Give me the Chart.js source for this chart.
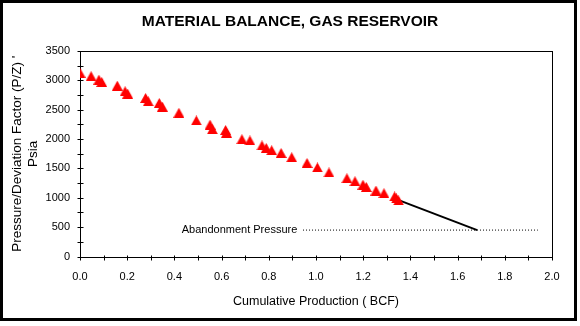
<!DOCTYPE html>
<html>
<head>
<meta charset="utf-8">
<script src="https://cdn.jsdelivr.net/npm/chart.js@4/dist/chart.umd.min.js"></script>
<style>
html,body{margin:0;padding:0;background:#fff;}
canvas{display:block;}
</style>
</head>
<body>
<canvas id="c" width="580" height="326"></canvas>
<script>
// ---- data ----
const prodBCF = [0.000, 0.047, 0.080, 0.092, 0.158, 0.191, 0.202, 0.278, 0.289, 0.336,
                 0.349, 0.419, 0.493, 0.551, 0.561, 0.617, 0.621, 0.686, 0.720, 0.771,
                 0.789, 0.812, 0.852, 0.897, 0.962, 1.006, 1.055, 1.131, 1.165, 1.199,
                 1.213, 1.254, 1.288, 1.333, 1.341, 1.350];
const pzPsia  = [3130, 3070, 3012, 2973, 2910, 2814, 2773, 2700, 2644, 2615,
                 2552, 2448, 2317, 2245, 2167, 2155, 2109, 1998, 1976, 1891,
                 1848, 1809, 1763, 1690, 1593, 1516, 1431, 1332, 1281, 1223,
                 1184, 1124, 1078, 1022, 988, 954];
const extrapX = [1.35, 1.683];
const extrapY = [960, 450];
const abandonX = [0.945, 1.94];
const abandonP = 450;
const abandonLabel = "Abandonment Pressure";
const abandonLabelX = 0.431;
const titleText = "MATERIAL BALANCE, GAS RESERVOIR";
const xTitle = "Cumulative Production ( BCF)";
const yTitle = ["Pressure/Deviation Factor (P/Z) '", "Psia"];
const xRange = [0, 2];
const yRange = [0, 3500];

const FONT = "'Liberation Sans', Arial, sans-serif";

// triangle marker (centred in its box, like the original)
const tri = document.createElement('canvas');
tri.width = 11; tri.height = 10;
(function(){
  const g = tri.getContext('2d');
  g.fillStyle = '#ff0000';
  g.beginPath(); g.moveTo(5.5, 0); g.lineTo(11, 10); g.lineTo(0, 10); g.closePath(); g.fill();
})();

const framePlugin = {
  id: 'frame',
  beforeDraw(chart) {
    const ctx = chart.ctx;
    ctx.save(); ctx.fillStyle = '#fff'; ctx.fillRect(0, 0, chart.width, chart.height); ctx.restore();
  },
  beforeDatasetsDraw(chart) {
    const {ctx, chartArea: a, scales: {x, y}} = chart;
    ctx.save();
    ctx.strokeStyle = '#000'; ctx.lineWidth = 1;
    const L = Math.round(a.left) + 0.5, R = Math.round(a.right) + 0.5;
    const T = Math.round(a.top) + 0.5, B = Math.round(a.bottom) + 0.5;
    ctx.strokeRect(L, T, R - L, B - T);
    ctx.beginPath();
    x.ticks.forEach(t => { const px = Math.round(x.getPixelForValue(t.value)) + 0.5; ctx.moveTo(px, B - 2); ctx.lineTo(px, B + 3); });
    y.ticks.forEach(t => { const py = Math.round(y.getPixelForValue(t.value)) + 0.5; ctx.moveTo(L - 3, py); ctx.lineTo(L + 3, py); });
    ctx.stroke();
    ctx.fillStyle = '#000';
    // chart title
    ctx.font = 'bold 15.5px ' + FONT;
    ctx.textBaseline = 'middle'; ctx.textAlign = 'center';
    ctx.fillText(titleText, 290, 22);
    // abandonment label
    ctx.font = '11px ' + FONT;
    ctx.textAlign = 'left';
    ctx.fillText(abandonLabel, x.getPixelForValue(abandonLabelX), y.getPixelForValue(abandonP));
    ctx.restore();
  },
  afterDraw(chart) {
    const ctx = chart.ctx;
    ctx.save(); ctx.strokeStyle = '#000'; ctx.lineWidth = 3;
    ctx.strokeRect(1.5, 1.5, 574, 318); ctx.restore();
  }
};

new Chart(document.getElementById('c'), {
  type: 'scatter',
  data: {
    datasets: [
      {
        data: prodBCF.map((v, i) => ({x: v, y: pzPsia[i]})),
        pointStyle: tri, pointRadius: 6, showLine: false,
        backgroundColor: '#ff0000', borderColor: '#ff0000'
      },
      {
        data: extrapX.map((v, i) => ({x: v, y: extrapY[i]})),
        showLine: true, borderColor: '#000', borderWidth: 2, pointRadius: 0
      },
      {
        data: abandonX.map(v => ({x: v, y: abandonP})),
        showLine: true, borderColor: '#000', borderWidth: 1, borderDash: [1, 2], pointRadius: 0
      }
    ]
  },
  options: {
    responsive: false, animation: false, devicePixelRatio: 1,
    layout: {padding: {left: 0, right: 28, top: 51, bottom: 0}},
    plugins: {
      legend: {display: false}, tooltip: {enabled: false},
      title: {display: false}
    },
    scales: {
      x: {
        type: 'linear', min: xRange[0], max: xRange[1],
        grid: {display: false, drawTicks: false},
        border: {display: false},
        ticks: {stepSize: 0.1, color: '#000', font: {family: FONT, size: 11}, padding: 14, maxRotation: 0, autoSkip: false,
                callback: v => (Math.round(v * 10) % 2 === 0 ? v.toFixed(1) : '')},
        title: {display: true, text: xTitle, color: '#000', font: {family: FONT, size: 12.5, lineHeight: 1.2}, padding: {top: 4, bottom: 17}},
        afterFit: s => { s.height = 69.5; }
      },
      y: {
        type: 'linear', min: yRange[0], max: yRange[1],
        grid: {display: false, drawTicks: false},
        border: {display: false},
        ticks: {stepSize: 250, color: '#000', font: {family: FONT, size: 11}, padding: 10, autoSkip: false,
                callback: v => (v % 500 === 0 ? String(v) : '')},
        title: {display: true, text: yTitle, color: '#000', font: {family: FONT, size: 13.5, lineHeight: 1.2}, padding: {top: 9, bottom: 0}},
        afterFit: s => { s.width = 80; }
      }
    }
  },
  plugins: [framePlugin]
});
</script>
</body>
</html>
